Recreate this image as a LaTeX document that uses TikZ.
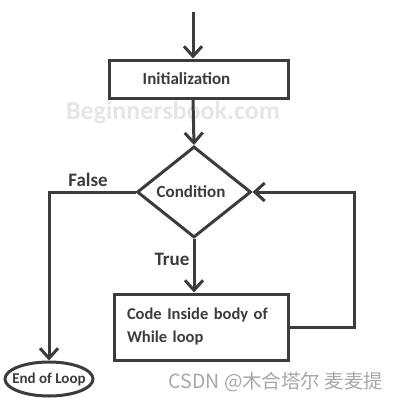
\documentclass[tikz,border=0pt]{standalone}
\usepackage{fontspec}
\setmainfont{Carlito}
\newfontfamily\cjkfont{Noto Sans CJK SC}
\usetikzlibrary{shapes.geometric,arrows.meta}
\definecolor{ink}{HTML}{3C3C3C}
\definecolor{wm}{HTML}{E6E6E6}
\definecolor{csdn}{HTML}{A8A8A8}
\tikzset{
  line/.style={draw=ink, line width=3pt},
  arr/.style={line, -{Straight Barb[length=10pt,width=18pt,line width=3pt]}},
  boxnode/.style={draw=ink, line width=3pt, rectangle, inner sep=0pt, font=\bfseries\fontsize{17}{23}\selectfont, text=ink},
  lbl/.style={font=\bfseries\fontsize{19}{22}\selectfont, text=ink},
}
\begin{document}
\begin{tikzpicture}[x=1pt,y=-1pt]
\useasboundingbox[fill=white] (0,0) rectangle (400,400);
\node[font=\bfseries\fontsize{26}{30}\selectfont, text=wm] (wmark) at (173,113) {Beginnersbook.com};
\coordinate (start) at (193,12);
\node[boxnode, minimum width=179pt, minimum height=38pt] (init) at (198.5,79) {\hspace*{-24pt}Initialization};
\node[boxnode, diamond, minimum width=114pt, minimum height=91pt] (cond) at (194,192) {\hspace*{-6pt}Condition};
\node[boxnode, minimum width=174pt, minimum height=66pt, text width=148pt, align=left, font=\bfseries\fontsize{16.5}{23}\selectfont] (body) at (201,327) {Code Inside body of\\While loop};
\node[draw=ink, line width=3pt, ellipse, minimum width=88pt, minimum height=34pt, inner xsep=-6pt, inner ysep=0pt, font=\bfseries\fontsize{15}{18}\selectfont, text=ink] (end) at (49,379) {End of Loop};
\draw[arr] (start) -- (start |- init.north);
\draw[arr] (init.south -| start) -- (cond.north);
\draw[arr] (cond.south) -- (cond.south |- body.north);
\draw[arr] (body.east) -- ++(65,0) |- (cond.east);
\draw[arr] (cond.west) -| (end.north);
\node[lbl] (flbl) at (88,180) {False};
\node[lbl] (tlbl) at (172,259) {True};
\node[font=\cjkfont\fontsize{19.5}{22}\selectfont, text=csdn] (credit) at (276,382) {CSDN @木合塔尔 麦麦提};
\end{tikzpicture}
\end{document}
